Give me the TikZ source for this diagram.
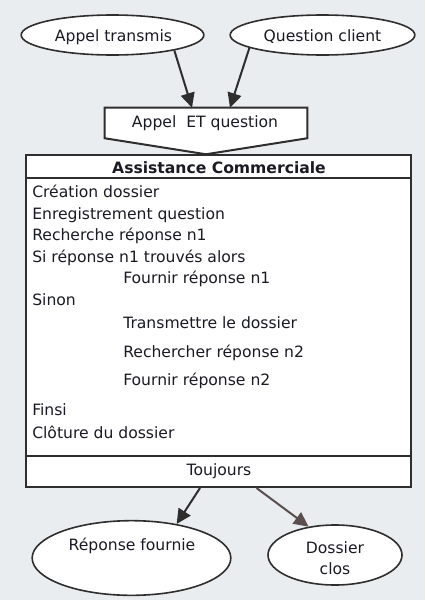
\documentclass[tikz,border=0pt]{standalone}
\usepackage{fontspec}
\setmainfont{DejaVu Sans}
\usetikzlibrary{arrows.meta,shapes.geometric,calc}
\definecolor{bgc}{HTML}{E9EDF0}
\definecolor{linec}{HTML}{2E2E2E}
\definecolor{txtc}{HTML}{1A1A24}
\definecolor{arrowb}{HTML}{5A4E4E}
\tikzset{
  elli/.style={ellipse, draw=linec, line width=1.2pt, fill=white, inner sep=0pt},
  txt/.style={anchor=base, inner sep=0pt, text=txtc, font=\fontsize{11.7pt}{14pt}\selectfont},
  ltxt/.style={txt, anchor=base west},
  conn/.style={draw=linec, line width=1.5pt, -{Triangle[length=11pt,width=10.5pt]}},
  connb/.style={conn, draw=arrowb, fill=arrowb},
  boxline/.style={draw=linec, line width=1.5pt}
}
\begin{document}
\begin{tikzpicture}[x=0.75pt,y=-0.75pt]
\fill[bgc] (0,0) rectangle (425,600);
\useasboundingbox (0,0) rectangle (425,600);

% top ellipses
\node[elli, minimum width=137pt, minimum height=30pt] (at) at (112.5,35) {};
\node[txt] (att) at (113.5,41) {Appel transmis};
\node[elli, minimum width=138.5pt, minimum height=30pt] (qc) at (322.5,35) {};
\node[txt] (qct) at (322.5,41) {Question client};

% pentagon
\node[inner sep=0pt, minimum width=151.5pt, minimum height=22.5pt] (aq) at (206,123) {};
\draw[boxline, fill=white] (aq.north west) -- (aq.north east) -- (aq.south east)
  -- ($(aq.south)+(0,16)$) -- (aq.south west) -- cycle;
\node[txt] (aqt) at (205,127) {Appel\ \ ET question};
\coordinate (aqin1) at ($(aq.north)+(-14,0)$);
\coordinate (aqin2) at ($(aq.north)+(24,0)$);

\draw[conn] (at.-14) -- (aqin1);
\draw[conn] (qc.190) -- (aqin2);

% main box
\node[draw=linec, line width=1.5pt, fill=white, inner sep=0pt,
  minimum width=288.75pt, minimum height=249pt] (box) at (218.5,321) {};
\draw[boxline] (26,178) -- (411,178);
\draw[boxline] (26,456) -- (411,456);
\node[txt, font=\fontsize{11.7pt}{14pt}\selectfont\bfseries] (hd) at (219,173) {Assistance Commerciale};
\node[ltxt] (l1) at (32,197) {Création dossier};
\node[ltxt] (l2) at (32,219) {Enregistrement question};
\node[ltxt] (l3) at (32,240) {Recherche réponse n1};
\node[ltxt] (l4) at (32,262) {Si réponse n1 trouvés alors};
\node[ltxt] (l5) at (123,283) {Fournir réponse n1};
\node[ltxt] (l6) at (32,305) {Sinon};
\node[ltxt] (l7) at (123,328) {Transmettre le dossier};
\node[ltxt] (l8) at (123,357) {Rechercher réponse n2};
\node[ltxt] (l9) at (123,385) {Fournir réponse n2};
\node[ltxt] (l10) at (32,415) {Finsi};
\node[ltxt] (l11) at (32,438) {Clôture du dossier};
\node[txt] (tj) at (219,475) {Toujours};

% bottom ellipses
\node[elli, minimum width=149pt, minimum height=56pt] (rf) at (131.5,558) {};
\node[txt] (rft) at (132,550) {Réponse fournie};
\node[elli, minimum width=100.5pt, minimum height=45pt] (dc) at (335,555) {};
\node[txt] (dct1) at (335,553) {Dossier};
\node[txt] (dct2) at (335,574) {clos};

\coordinate (bo1) at ($(box.south)+(-18.5,0)$);
\coordinate (bo2) at ($(box.south)+(38,0)$);
\draw[conn] (bo1) -- (rf.37);
\draw[connb] (bo2) -- (dc.133);
\end{tikzpicture}
\end{document}
